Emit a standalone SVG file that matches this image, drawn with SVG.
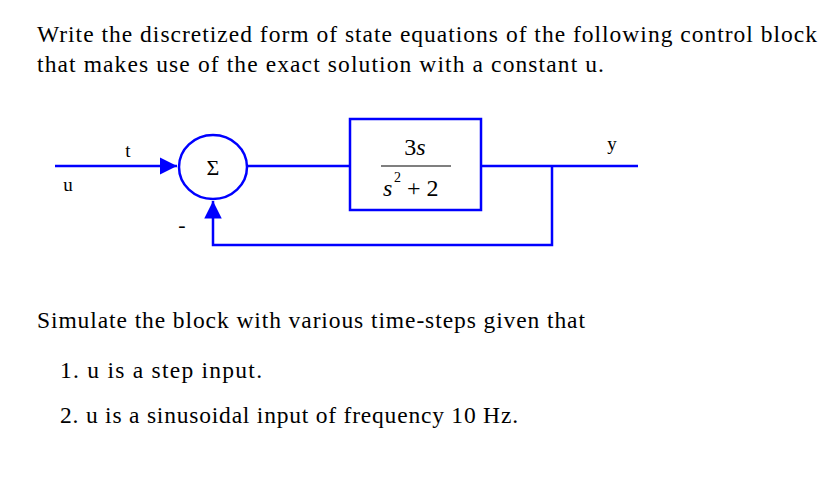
<svg xmlns="http://www.w3.org/2000/svg" width="833" height="477" viewBox="0 0 833 477">
<style>
.t{font-family:"Liberation Serif","DejaVu Serif",serif;font-size:23.5px;fill:#000}
.s{font-family:"Liberation Serif","Times New Roman",serif;font-size:19px;fill:#000}
.w{stroke:#0000ff;stroke-width:2.5;fill:none}
</style>
<defs><marker id="a" viewBox="0 0 10 10" refX="10" refY="5" markerWidth="7" markerHeight="7" orient="auto" markerUnits="strokeWidth"><path d="M0,0L10,5L0,10z" fill="#0000ff"/></marker></defs>
<rect width="833" height="477" fill="#fff"/>
<text class="t" x="37" y="42" textLength="780" lengthAdjust="spacing">Write the discretized form of state equations of the following control block</text>
<text class="t" x="37" y="72" textLength="567" lengthAdjust="spacing">that makes use of the exact solution with a constant u.</text>
<g id="connectors">
<line class="w" x1="55" y1="166" x2="177" y2="166" marker-end="url(#a)"/>
<line class="w" x1="247" y1="166" x2="350" y2="166"/>
<line class="w" x1="481" y1="166" x2="638" y2="166"/>
<polyline class="w" points="552,166 552,245 213,245 213,201" marker-end="url(#a)"/>
</g>
<g id="sum"><ellipse class="w" cx="213" cy="167" rx="34" ry="32"/><text class="s" x="213" y="175" text-anchor="middle" style="font-size:22px">Σ</text></g>
<g id="plant"><rect class="w" x="350" y="119" width="131" height="91"/>
<text class="s" x="415" y="155" text-anchor="middle" style="font-size:24px">3<tspan style="font-style:italic">s</tspan></text>
<line x1="381" y1="166" x2="451" y2="166" stroke="#000" stroke-width="1.2"/>
<text class="s" x="383" y="196" style="font-size:24px;font-style:italic">s</text>
<text class="s" x="394" y="182" style="font-size:14px">2</text>
<text class="s" x="407" y="196" style="font-size:24px">+ 2</text></g>
<text class="s" x="128" y="157" text-anchor="middle">t</text>
<text class="s" x="68" y="191" text-anchor="middle">u</text>
<text class="s" x="612" y="150" text-anchor="middle">y</text>
<text class="s" x="182" y="232" text-anchor="middle" style="font-size:22px">-</text>
<text class="t" x="37" y="328" textLength="548" lengthAdjust="spacing">Simulate the block with various time-steps given that</text>
<text class="t" x="60" y="378" textLength="202" lengthAdjust="spacing">1. u is a step input.</text>
<text class="t" x="60" y="423" textLength="458" lengthAdjust="spacing">2. u is a sinusoidal input of frequency 10 Hz.</text>
</svg>
